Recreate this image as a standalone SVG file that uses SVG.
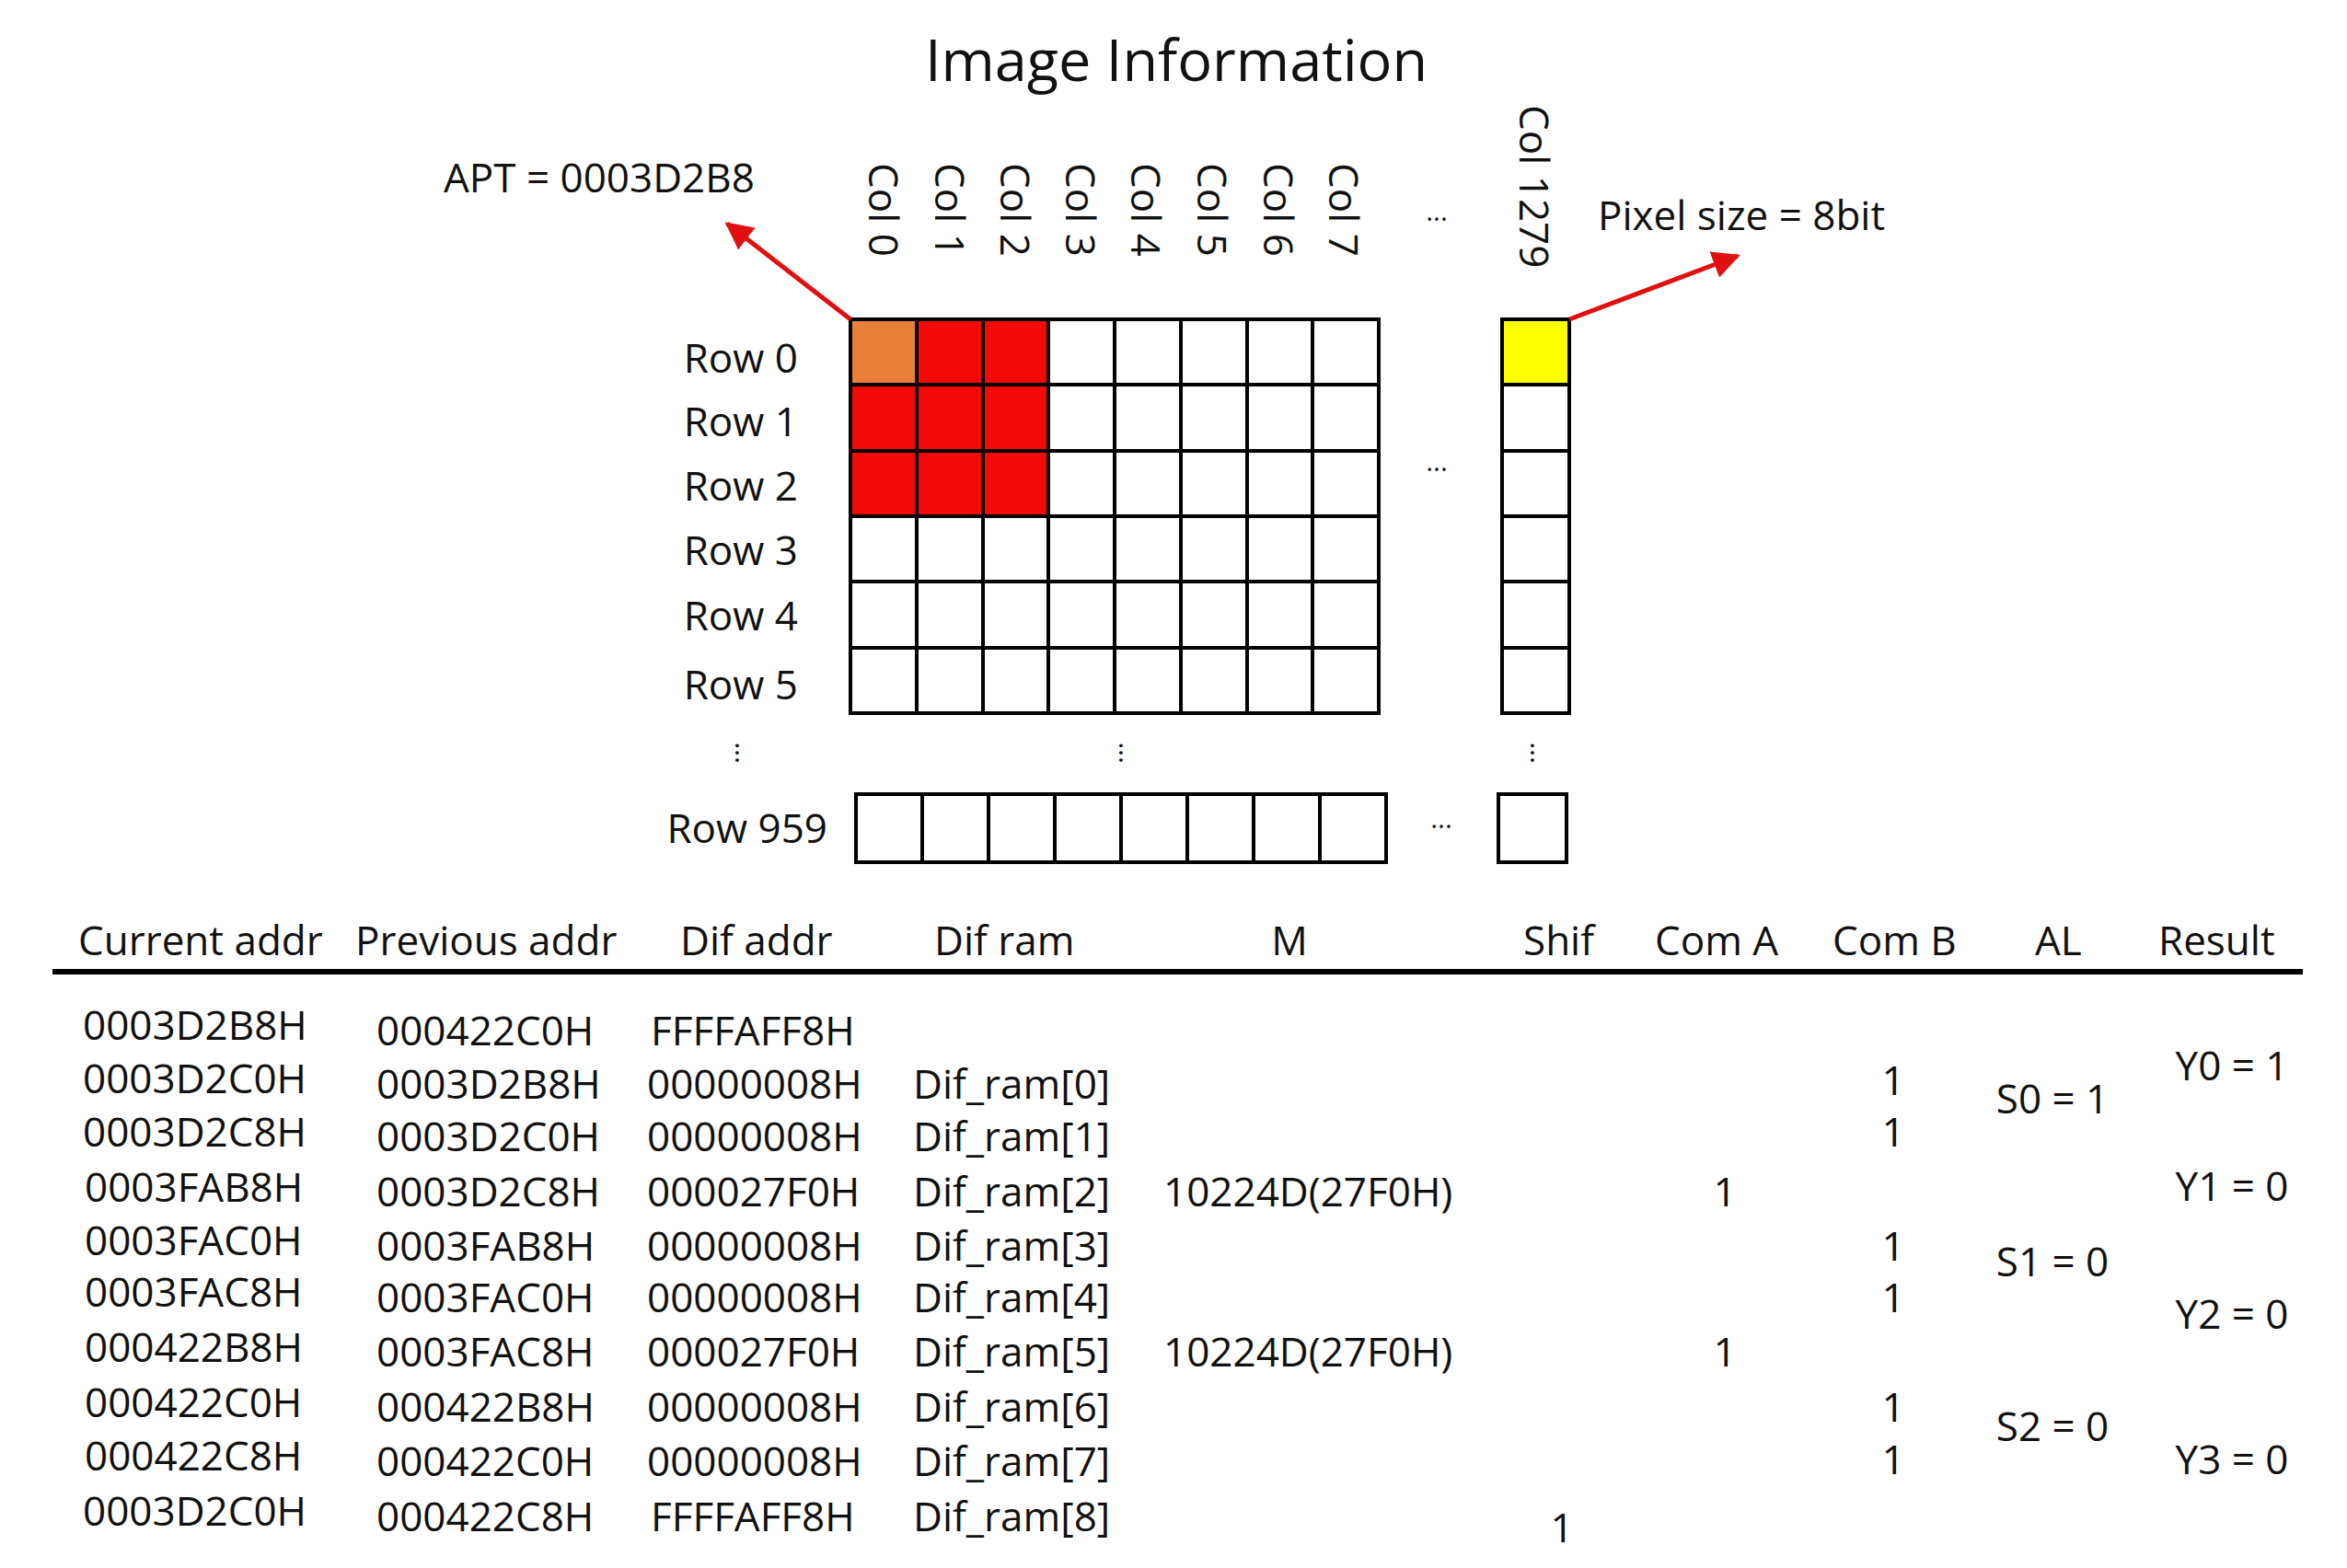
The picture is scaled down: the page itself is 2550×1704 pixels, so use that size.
<svg xmlns="http://www.w3.org/2000/svg" width="2550" height="1704" viewBox="0 0 2550 1704">
<style>
text{font-family:"Open Sans","Liberation Sans",sans-serif;fill:#111;font-size:44px}
.c{stroke:#000;stroke-width:4;fill:#fff}
.col{dominant-baseline:central}
.m{text-anchor:middle}
.e{text-anchor:end}
.t{font-size:63px}
.d{font-size:30px}
</style>
<defs>
<marker id="ar" viewBox="0 0 10 10" refX="9" refY="5" markerWidth="6" markerHeight="6" orient="auto" markerUnits="strokeWidth"><path d="M0,0L10,5L0,10z" fill="#e01010"/></marker>
</defs>
<rect width="2550" height="1704" fill="#fff"/>
<text x="1278" y="88" class="m t">Image Information</text>
<g id="grid">
<g id="cells">
<rect x="924" y="347" width="574" height="428" class="c"/>
<rect x="924" y="347" width="72" height="71" fill="#e8803a"/>
<rect x="996" y="347" width="143" height="71" fill="#f20a0a"/>
<rect x="924" y="418" width="215" height="143" fill="#f20a0a"/>
<path d="M996,347V775M1068,347V775M1139,347V775M1211,347V775M1283,347V775M1355,347V775M1426,347V775M924,418H1498M924,490H1498M924,561H1498M924,632H1498M924,704H1498" stroke="#000" stroke-width="4"/>
<rect x="924" y="347" width="574" height="428" fill="none" stroke="#000" stroke-width="4"/>
</g>
<g id="lastcol">
<rect x="1632" y="347" width="73" height="71" fill="#ffff00" stroke="#000" stroke-width="4"/>
<rect x="1632" y="418" width="73" height="357" class="c"/>
<path d="M1632,490H1705M1632,561H1705M1632,632H1705M1632,704H1705" stroke="#000" stroke-width="4"/>
</g>
<g id="row959">
<rect x="930" y="863" width="576" height="74" class="c"/>
<path d="M1002,863V937M1074,863V937M1146,863V937M1218,863V937M1290,863V937M1362,863V937M1434,863V937" stroke="#000" stroke-width="4"/>
<rect x="1628" y="863" width="74" height="74" class="c"/>
</g>
</g>
<g id="rowlabels">
<text x="867" y="405" class="e">Row 0</text>
<text x="867" y="474" class="e">Row 1</text>
<text x="867" y="544" class="e">Row 2</text>
<text x="867" y="614" class="e">Row 3</text>
<text x="867" y="685" class="e">Row 4</text>
<text x="867" y="760" class="e">Row 5</text>
<text x="899" y="916" class="e">Row 959</text>
</g>
<g id="collabels">
<text x="961" y="177" class="col" transform="rotate(90 961 177)">Col 0</text>
<text x="1033" y="177" class="col" transform="rotate(90 1033 177)">Col 1</text>
<text x="1104" y="177" class="col" transform="rotate(90 1104 177)">Col 2</text>
<text x="1175" y="177" class="col" transform="rotate(90 1175 177)">Col 3</text>
<text x="1246" y="177" class="col" transform="rotate(90 1246 177)">Col 4</text>
<text x="1318" y="177" class="col" transform="rotate(90 1318 177)">Col 5</text>
<text x="1390" y="177" class="col" transform="rotate(90 1390 177)">Col 6</text>
<text x="1461" y="177" class="col" transform="rotate(90 1461 177)">Col 7</text>
<text x="1668" y="114" class="col" transform="rotate(90 1668 114)">Col 1279</text>
</g>
<g id="ellipses">
<text x="1561" y="240" class="m d">...</text>
<text x="1561" y="512" class="m d">...</text>
<text x="1566" y="900" class="m d">...</text>
<text x="801" y="820" class="m d" transform="rotate(90 801 818)">...</text>
<text x="1218" y="820" class="m d" transform="rotate(90 1218 818)">...</text>
<text x="1665" y="820" class="m d" transform="rotate(90 1665 818)">...</text>
</g>
<g id="apt"><text x="482" y="209">APT = 0003D2B8</text></g>
<g id="pixel"><text x="1736" y="250">Pixel size = 8bit</text></g>
<g id="connectors" stroke="#e01010" stroke-width="5" fill="none">
<line x1="924" y1="347" x2="790" y2="243" marker-end="url(#ar)"/>
<line x1="1705" y1="347" x2="1888" y2="278" marker-end="url(#ar)"/>
</g>
<g id="table">
<g id="header">
<text x="85" y="1038">Current addr</text>
<text x="386" y="1038">Previous addr</text>
<text x="739" y="1038">Dif addr</text>
<text x="1015" y="1038">Dif ram</text>
<text x="1401" y="1038" class="m">M</text>
<text x="1655" y="1038">Shif</text>
<text x="1798" y="1038">Com A</text>
<text x="1991" y="1038">Com B</text>
<text x="2211" y="1038">AL</text>
<text x="2345" y="1038">Result</text>
<line x1="57" y1="1056" x2="2502" y2="1056" stroke="#000" stroke-width="6"/>
</g>
<g id="c1"><text x="90" y="1130">0003D2B8H</text><text x="90" y="1188">0003D2C0H</text><text x="90" y="1246">0003D2C8H</text><text x="92" y="1306">0003FAB8H</text><text x="92" y="1364">0003FAC0H</text><text x="92" y="1420">0003FAC8H</text><text x="92" y="1480">000422B8H</text><text x="92" y="1540">000422C0H</text><text x="92" y="1598">000422C8H</text><text x="90" y="1658">0003D2C0H</text></g>
<g id="c2"><text x="409" y="1136">000422C0H</text><text x="409" y="1194">0003D2B8H</text><text x="409" y="1251">0003D2C0H</text><text x="409" y="1311">0003D2C8H</text><text x="409" y="1370">0003FAB8H</text><text x="409" y="1426">0003FAC0H</text><text x="409" y="1485">0003FAC8H</text><text x="409" y="1545">000422B8H</text><text x="409" y="1604">000422C0H</text><text x="409" y="1664">000422C8H</text></g>
<g id="c3"><text x="707" y="1136">FFFFAFF8H</text><text x="703" y="1194">00000008H</text><text x="703" y="1251">00000008H</text><text x="703" y="1311">000027F0H</text><text x="703" y="1370">00000008H</text><text x="703" y="1426">00000008H</text><text x="703" y="1485">000027F0H</text><text x="703" y="1545">00000008H</text><text x="703" y="1604">00000008H</text><text x="707" y="1664">FFFFAFF8H</text></g>
<g id="c4"><text x="992" y="1194">Dif_ram[0]</text><text x="992" y="1251">Dif_ram[1]</text><text x="992" y="1311">Dif_ram[2]</text><text x="992" y="1370">Dif_ram[3]</text><text x="992" y="1426">Dif_ram[4]</text><text x="992" y="1485">Dif_ram[5]</text><text x="992" y="1545">Dif_ram[6]</text><text x="992" y="1604">Dif_ram[7]</text><text x="992" y="1664">Dif_ram[8]</text></g>
<g id="cm"><text x="1264" y="1311">10224D(27F0H)</text><text x="1264" y="1485">10224D(27F0H)</text></g>
<g id="cs"><text x="1697" y="1676" class="m">1</text></g>
<g id="ca"><text x="1874" y="1311" class="m">1</text><text x="1874" y="1485" class="m">1</text></g>
<g id="cb"><text x="2057" y="1190" class="m">1</text><text x="2057" y="1246" class="m">1</text><text x="2057" y="1370" class="m">1</text><text x="2057" y="1426" class="m">1</text><text x="2057" y="1545" class="m">1</text><text x="2057" y="1602" class="m">1</text></g>
<g id="al"><text x="2230" y="1210" class="m">S0 = 1</text><text x="2230" y="1387" class="m">S1 = 0</text><text x="2230" y="1566" class="m">S2 = 0</text></g>
<g id="res"><text x="2425" y="1174" class="m">Y0 = 1</text><text x="2425" y="1305" class="m">Y1 = 0</text><text x="2425" y="1444" class="m">Y2 = 0</text><text x="2425" y="1602" class="m">Y3 = 0</text></g>
</g>
</svg>
